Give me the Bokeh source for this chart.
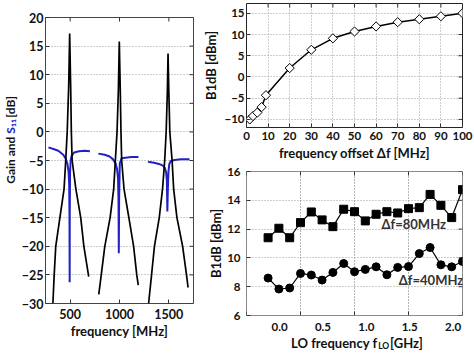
import math
from bokeh.plotting import figure
from bokeh.layouts import row, column
from bokeh.models import Label, FixedTicker, Range1d, AllLabels, Grid
from bokeh.core.properties import value
from bokeh.embed import file_html
from bokeh.resources import INLINE

FONT = "Lato"

# ---------------- left panel: gain (black) and S11 (blue) ----------------
p1_f = [325, 338, 354, 396, 438, 455, 470, 485, 495, 505, 512, 520, 558, 607, 639, 688]
p1_g = [-30, -25, -20, -15, -10, -5, 0, 8, 17.2, 8, 0, -5, -10, -15, -20, -25.3]
p2_f = [790, 815, 851, 905, 941, 958, 975, 988, 998, 1008, 1015, 1022, 1046, 1095, 1143, 1175, 1190]
p2_g = [-28.4, -25, -20, -15, -10, -5, 0, 7, 15.8, 7, 0, -5, -10, -15, -20, -25, -26.8]
p3_f = [1295, 1325, 1354, 1403, 1436, 1458, 1473, 1485, 1492, 1500, 1510, 1533, 1549, 1582, 1640, 1679, 1695]
p3_g = [-30, -25, -20, -15, -10, -5, 0, 7, 13.7, 7, 0, -5, -10, -15, -20, -25, -27.2]

s1_f = [280, 330, 380, 430, 455, 472, 484, 490, 493, 495, 496, 499, 505, 515, 540, 590, 650, 700]
s1_g = [-2.7, -3.0, -3.3, -4.0, -4.7, -5.6, -7.0, -9.0, -14, -26.3, -14, -7, -5.0, -4.2, -3.6, -3.4, -3.3, -3.4]
s2_f = [786, 850, 900, 935, 960, 975, 985, 990, 993, 996, 1003, 1022, 1060, 1120, 1192]
s2_g = [-3.8, -4.0, -4.3, -4.8, -5.5, -6.5, -8.0, -12, -21.2, -12, -5.5, -4.6, -4.5, -4.4, -4.4]
s3_f = [1289, 1350, 1400, 1440, 1460, 1472, 1480, 1485, 1490, 1496, 1505, 1520, 1560, 1620, 1710]
s3_g = [-5.2, -5.4, -5.6, -5.9, -6.3, -7.0, -8.5, -13.9, -10, -7, -5.6, -5.1, -4.9, -4.8, -4.8]

left_xrange = (250, 1750)
left_yrange = (-30, 20)
left_xticks = [500, 1000, 1500]
left_yticks = [-30, -25, -20, -15, -10, -5, 0, 5, 10, 15, 20]

# ---------------- top right: B1dB vs frequency offset ----------------
df_mhz = [1.5, 3, 5, 7, 9, 20, 30, 40, 50, 60, 70, 80, 90, 100]
b1db_df = [-10.0, -9.2, -8.4, -7.1, -4.3, 2.1, 6.4, 9.1, 10.7, 11.9, 12.9, 13.6, 14.3, 15.0]
tr_xrange = (0, 100)
tr_yrange = (-11.9, 17.3)
tr_xticks = [0, 10, 20, 30, 40, 50, 60, 70, 80, 90, 100]
tr_yticks = [-10, -5, 0, 5, 10, 15]

# ---------------- bottom right: B1dB vs LO frequency ----------------
f_lo = [0.2, 0.3, 0.4, 0.5, 0.6, 0.7, 0.8, 0.9, 1.0, 1.1, 1.2, 1.3, 1.4, 1.5, 1.6, 1.7, 1.8, 1.9, 2.0]
b1db_80 = [11.4, 12.06, 11.4, 12.45, 13.19, 12.64, 12.17, 13.38, 13.21, 12.57, 13.03, 13.21, 13.12, 13.42, 13.49, 14.41, 13.65, 12.8, 14.74]
b1db_40 = [8.6, 7.84, 7.91, 8.92, 8.81, 8.46, 8.99, 9.61, 9.04, 9.2, 9.38, 8.83, 9.34, 9.4, 10.3, 10.72, 9.52, 9.38, 9.75]
br_xrange = (0, 2)
br_yrange = (6, 16)
br_xticks = [0.0, 0.5, 1.0, 1.5, 2.0]
br_xlabels = ["0.0", "0.5", "1.0", "1.5", "2.0"]
br_yticks = [6, 8, 10, 12, 14, 16]

TXT = "#111111"
BLUE = "#2222c4"
TICK = "#333333"

BR_W, BR_LEFT, BR_RIGHT = 274, 42, 12


def style_axis(ax, tick_size="11.5px"):
    ax.major_tick_in = 4
    ax.major_tick_out = 0
    ax.minor_tick_line_color = None
    ax.axis_line_color = None
    ax.major_tick_line_color = TICK
    ax.major_label_text_font = FONT
    ax.major_label_text_font_style = "bold"
    ax.major_label_text_font_size = tick_size
    ax.major_label_text_color = TXT
    ax.major_label_policy = AllLabels()
    ax.axis_label_text_font = FONT
    ax.axis_label_text_font_style = "bold"
    ax.axis_label_text_font_size = "13px"
    ax.axis_label_text_color = TXT


def style(p, outline, tick_size="11.5px"):
    p.outline_line_color = outline
    p.outline_line_width = 1
    p.background_fill_color = "white"
    p.border_fill_color = "white"
    for ax in p.axis:
        style_axis(ax, tick_size)
    p.grid.grid_line_color = "#9a9a9a"
    p.grid.grid_line_dash = "1 2"
    p.grid.grid_line_width = 1


def edge_ticks(p, xr, yr, xt, yt, bottom=False):
    # MATLAB-style inward ticks on the top and right edges of the box
    p.ray(x=xt, y=[yr[1]] * len(xt), length=4, angle=-math.pi / 2,
          length_units="screen", line_color=TICK, line_width=1)
    p.ray(x=[xr[1]] * len(yt), y=yt, length=4, angle=math.pi,
          length_units="screen", line_color=TICK, line_width=1)
    if bottom:
        p.ray(x=xt, y=[yr[0]] * len(xt), length=4, angle=math.pi / 2,
              length_units="screen", line_color=TICK, line_width=1)


def blank(w, h, xr=None):
    f = figure(width=w, height=h, x_range=Range1d(*(xr or (0, w))), y_range=Range1d(0, h),
               x_axis_type=None, y_axis_type=None, output_backend="svg",
               toolbar_location=None, min_border=0)
    f.outline_line_color = None
    f.background_fill_color = "white"
    f.border_fill_color = "white"
    return f


# ---- strip holding the two-colour y-axis label of the left panel ----
ylab = blank(18, 357)
lab_kw = dict(angle=math.pi / 2, text_font=FONT, text_font_style="bold",
              text_font_size="12px", text_baseline="middle")
ylab.add_layout(Label(x=10, y=212, text="Gain and ", text_align="right", text_color=TXT, **lab_kw))
ylab.add_layout(Label(x=10, y=212, text="S\u2081\u2081", text_align="left", text_color=BLUE, **lab_kw))
ylab.add_layout(Label(x=10, y=232, text="[dB]", text_align="left", text_color=TXT, **lab_kw))

# ---- left figure ----
pl = figure(width=182, height=357, x_range=Range1d(*left_xrange), y_range=Range1d(*left_yrange),
            output_backend="svg", toolbar_location=None,
            min_border_left=22, min_border_right=7, min_border_top=17, min_border_bottom=54)
style(pl, "#444444", "12.5px")
pl.xgrid.grid_line_color = None
pl.xaxis.ticker = FixedTicker(ticks=left_xticks)
pl.yaxis.ticker = FixedTicker(ticks=left_yticks)
pl.xaxis.major_label_standoff = 5
pl.xaxis.axis_label = "frequency [MHz]"
pl.xaxis.axis_label_standoff = 1
pl.yaxis.major_label_standoff = 2
edge_ticks(pl, left_xrange, left_yrange, left_xticks, left_yticks)

for fx, gy in ((s1_f, s1_g), (s2_f, s2_g), (s3_f, s3_g)):
    pl.line(fx, gy, line_color=BLUE, line_width=2)
for fx, gy in ((p1_f, p1_g), (p2_f, p2_g), (p3_f, p3_g)):
    pl.line(fx, gy, line_color="black", line_width=1.7)

# ---- top right figure ----
ptr = figure(width=274, height=166, x_range=Range1d(*tr_xrange), y_range=Range1d(*tr_yrange),
             output_backend="svg", toolbar_location=None,
             min_border_left=46, min_border_right=12, min_border_top=3, min_border_bottom=39)
style(ptr, "#222222")
ptr.xaxis.ticker = FixedTicker(ticks=tr_xticks)
ptr.yaxis.ticker = FixedTicker(ticks=tr_yticks)
ptr.xaxis.major_label_standoff = 4
ptr.xaxis.axis_label = "frequency offset \u0394f [MHz]"
ptr.xaxis.axis_label_standoff = 2
ptr.yaxis.major_label_standoff = 2
ptr.yaxis.axis_label = "B1dB [dBm]"
ptr.yaxis.axis_label_standoff = 2
edge_ticks(ptr, tr_xrange, tr_yrange, tr_xticks, tr_yticks)
ptr.line(df_mhz, b1db_df, line_color="black", line_width=1.5)
ptr.scatter(df_mhz, b1db_df, marker="square", angle=math.pi / 4, size=6.5,
            fill_color="white", line_color="black", line_width=1)

# ---- bottom right figure (its x tick labels live in the strip below) ----
pbr = figure(width=BR_W, height=155, x_range=Range1d(*br_xrange), y_range=Range1d(*br_yrange),
             x_axis_location=None, output_backend="svg", toolbar_location=None,
             min_border_left=BR_LEFT, min_border_right=BR_RIGHT, min_border_top=5,
             min_border_bottom=6)
style(pbr, "#8a8a8a")
pbr.add_layout(Grid(dimension=0, ticker=FixedTicker(ticks=br_xticks), grid_line_color="#9a9a9a",
                    grid_line_dash="1 2", grid_line_width=1))
pbr.yaxis.ticker = FixedTicker(ticks=br_yticks)
pbr.yaxis.major_label_standoff = 6
pbr.yaxis.axis_label = "B1dB [dBm]"
pbr.yaxis.axis_label_standoff = 0
edge_ticks(pbr, br_xrange, br_yrange, br_xticks, br_yticks, bottom=True)
pbr.line(f_lo, b1db_80, line_color="black", line_width=1.2)
pbr.scatter(f_lo, b1db_80, marker="square", size=8, fill_color="black", line_color="black")
pbr.line(f_lo, b1db_40, line_color="black", line_width=1.2)
pbr.scatter(f_lo, b1db_40, marker="circle", size=8, fill_color="black", line_color="black")

ann_kw = dict(text_font=FONT, text_font_style="bold", text_font_size="13px",
              text_color="#333333", text_baseline="middle", text_align="left")
pbr.add_layout(Label(x=1.25, y=12.38, text="\u0394f=80MHz", **ann_kw))
pbr.add_layout(Label(x=1.41, y=8.5, text="\u0394f=40MHz", **ann_kw))

# ---- strip carrying the x tick labels of the bottom-right panel ----
# its x range is the panel's range widened by the panel's side borders, so that
# positions line up with the panel above
frame_w = BR_W - BR_LEFT - BR_RIGHT
unit = (br_xrange[1] - br_xrange[0]) / frame_w
xt = blank(BR_W, 14, (br_xrange[0] - BR_LEFT * unit, br_xrange[1] + BR_RIGHT * unit))
xt.text(x=br_xticks, y=[13] * len(br_xticks), text=br_xlabels,
        text_font=value(FONT), text_font_style="bold", text_font_size="11.5px",
        text_color=TXT, text_align="center", text_baseline="top")

# ---- strip holding the x-axis label (with subscript) of the bottom-right panel ----
xlab = blank(274, 22)
xl_kw = dict(text_font=FONT, text_font_style="bold", text_color=TXT, text_baseline="middle")
xlab.add_layout(Label(x=166, y=15, text="LO frequency f", text_align="right",
                      text_font_size="13px", **xl_kw))
xlab.add_layout(Label(x=167, y=11.5, text="LO", text_align="left",
                      text_font_size="8.5px", **xl_kw))
xlab.add_layout(Label(x=182, y=15, text="[GHz]", text_align="left",
                      text_font_size="13px", **xl_kw))

layout = row(ylab, pl, column(ptr, pbr, xt, xlab))
open("out.html", "w").write(file_html(layout, INLINE))
